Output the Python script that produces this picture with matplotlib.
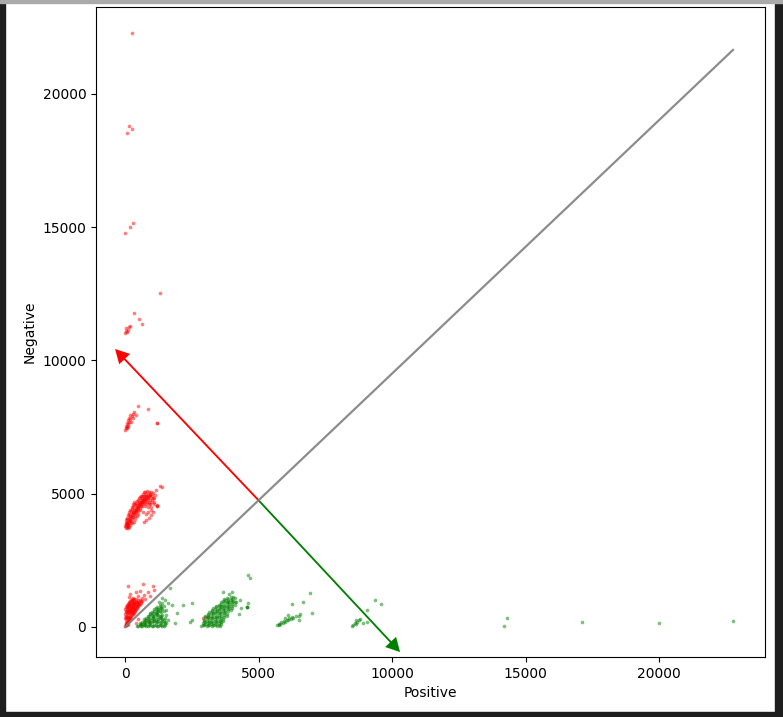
import matplotlib
matplotlib.use("Agg")
import matplotlib.pyplot as plt
from matplotlib.patches import Rectangle
import numpy as np

# red points (negative class) as (positive, negative)
red_low = [(0, 20), (30, 80), (60, 60), (20, 150), (80, 160), (120, 130), (40, 250), (100, 260), (150, 220),
           (10, 320), (70, 340), (130, 350), (190, 300), (50, 430), (110, 440), (170, 420), (230, 380),
           (0, 500), (80, 520), (150, 510), (210, 480), (270, 450), (40, 600), (120, 610), (190, 590),
           (260, 560), (320, 520), (10, 680), (90, 700), (160, 690), (230, 660), (300, 640), (360, 600),
           (60, 780), (140, 790), (210, 760), (280, 740), (350, 720), (410, 680), (110, 870), (190, 860),
           (260, 840), (330, 810), (400, 790), (460, 750), (160, 950), (240, 930), (320, 900), (390, 880),
           (470, 850), (530, 820), (220, 1020), (300, 1000), (380, 980), (450, 950), (520, 920), (600, 900),
           (280, 1080), (420, 1050), (560, 1010), (650, 980), (100, 1550), (670, 1600), (1050, 1550),
           (850, 1300), (400, 1300), (200, 1250), (700, 1200), (950, 1150), (1100, 1400), (550, 1350),
           (400, 150), (900, 170), (2920, 340), (3100, 380), (500, 300),
           (20, 60), (50, 120), (90, 100), (60, 200), (110, 190), (140, 280), (30, 380), (90, 390), (150, 370),
           (200, 350), (20, 550), (100, 560), (170, 550), (240, 520), (290, 500), (60, 650), (140, 650),
           (210, 630), (270, 600), (330, 570), (30, 740), (110, 740), (180, 720), (250, 700), (320, 680),
           (380, 650), (80, 830), (160, 820), (230, 800), (300, 770), (370, 750), (430, 720), (130, 910),
           (210, 900), (280, 880), (350, 850), (430, 830), (500, 790), (190, 990), (270, 970), (350, 940),
           (420, 920), (490, 890), (560, 860), (250, 1050), (340, 1040), (480, 1000), (600, 960),
           (650, 1100), (500, 1150), (750, 1050), (150, 1120)]
red_mid = [(20, 3700), (60, 3750), (100, 3720), (50, 3850), (120, 3820), (150, 3900), (90, 3950), (180, 3980),
           (220, 3950), (130, 4050), (200, 4080), (260, 4050), (300, 4120), (170, 4150), (240, 4200), (320, 4220),
           (360, 4180), (280, 4300), (380, 4300), (420, 4280), (220, 4350), (340, 4400), (440, 4400), (480, 4350),
           (400, 4480), (500, 4500), (540, 4450), (300, 4500), (460, 4580), (560, 4600), (600, 4550), (380, 4600),
           (520, 4680), (620, 4700), (660, 4650), (450, 4720), (580, 4780), (700, 4780), (740, 4720), (520, 4820),
           (650, 4850), (780, 4850), (820, 4800), (600, 4900), (720, 4930), (860, 4900), (900, 4860), (680, 4980),
           (800, 5000), (950, 4950), (1000, 4900), (760, 5080), (880, 5050), (1050, 5020), (1150, 5150),
           (1300, 5300), (1400, 5250), (1200, 4550), (1210, 4560), (1190, 4540), (1050, 4300), (980, 4200),
           (900, 4100), (800, 4000), (700, 3950), (0, 3800), (40, 4000), (80, 4100), (150, 4300), (250, 4500),
           (350, 4700), (1100, 4700), (950, 4600), (850, 4500),
           (40, 3780), (80, 3880), (110, 3900), (140, 3980), (170, 4030), (200, 4150), (250, 4120), (270, 4230),
           (310, 4280), (330, 4330), (360, 4350), (390, 4400), (410, 4430), (430, 4500), (470, 4480), (490, 4550),
           (510, 4600), (530, 4560), (550, 4650), (590, 4680), (610, 4630), (630, 4750), (670, 4730), (690, 4850),
           (710, 4800), (750, 4900), (770, 4800), (790, 4920), (840, 4950), (860, 4820), (920, 4950), (940, 5000),
           (980, 5050), (700, 4650), (620, 4520), (560, 4400), (500, 4250), (450, 4150), (380, 4050), (320, 3950),
           (260, 3900), (200, 3820), (150, 3760), (100, 3800), (60, 3900), (20, 3900), (70, 4050), (110, 4200),
           (160, 4250), (190, 4400), (260, 4420), (290, 4620), (350, 4560), (420, 4650), (480, 4780), (550, 4860),
           (640, 4930), (720, 5050), (830, 5100), (1000, 4800), (1100, 4850), (900, 4700), (800, 4600), (750, 4550),
           (920, 4780), (1000, 4700), (1050, 4850), (880, 4620), (960, 4500), (1080, 4600), (820, 4700),
           (1130, 4950), (980, 4380), (870, 4300), (780, 4250), (680, 4300)]
red_8k = [(0, 7400), (40, 7450), (80, 7500), (30, 7550), (120, 7600), (70, 7650), (160, 7700), (110, 7750),
          (200, 7800), (150, 7850), (250, 7900), (190, 7950), (300, 8000), (60, 7480), (100, 7550), (230, 7700),
          (280, 7850), (350, 8050), (490, 8290), (860, 8175), (1200, 7650), (1210, 7660), (400, 7950)]
red_11k = [(0, 11030), (50, 11100), (100, 11150), (30, 11200), (150, 11250), (80, 11060), (190, 11300),
           (340, 11775), (520, 11550), (640, 11360), (1310, 12525)]
red_top = [(75, 18525), (150, 18790), (260, 18675), (0, 14775), (190, 15000), (300, 15150), (260, 22275)]

# green points (positive class)
green_1 = [(450, 20), (550, 60), (650, 30), (750, 80), (850, 40), (950, 70), (1050, 30), (1150, 60), (1250, 40),
           (1350, 80), (1450, 50), (550, 150), (650, 200), (750, 170), (850, 220), (950, 160), (1050, 210),
           (1150, 180), (1250, 230), (1350, 190), (1450, 160), (700, 300), (800, 340), (900, 290), (1000, 350),
           (1100, 310), (1200, 360), (1300, 330), (1400, 300), (850, 430), (950, 470), (1050, 420), (1150, 480),
           (1250, 440), (1350, 410), (1000, 560), (1100, 600), (1200, 550), (1300, 590), (1150, 700), (1250, 680),
           (1350, 720), (1300, 820), (1450, 600), (1550, 450), (1600, 250), (600, 100), (700, 120), (800, 250),
           (1690, 1460), (1760, 830), (1950, 520), (2170, 830), (2500, 900), (1870, 150), (2500, 260),
           (1500, 1000), (1400, 1100), (1600, 900),
           (500, 40), (600, 20), (700, 60), (800, 30), (900, 60), (1000, 40), (1100, 70), (1200, 30), (1300, 60),
           (1400, 30), (1500, 80), (600, 120), (700, 180), (800, 150), (900, 200), (1000, 170), (1100, 230),
           (1200, 200), (1300, 160), (1400, 220), (1500, 200), (750, 270), (850, 320), (950, 260), (1050, 330),
           (1150, 270), (1250, 300), (1350, 350), (1450, 280), (900, 400), (1000, 450), (1100, 400), (1200, 470),
           (1300, 420), (1400, 450), (950, 520), (1050, 540), (1150, 520), (1250, 600), (1350, 560), (1100, 660),
           (1200, 640), (1300, 700), (1400, 680), (1200, 760), (1350, 800), (1500, 350), (1550, 150),
           (1400, 900), (1280, 950), (1450, 780), (1550, 650)]
green_2 = [(2850, 40), (2950, 60), (3050, 30), (3150, 70), (3250, 40), (3350, 60), (3450, 30), (3550, 50),
           (2900, 150), (3000, 180), (3100, 140), (3200, 190), (3300, 150), (3400, 180), (3500, 140), (3600, 170),
           (2950, 280), (3050, 320), (3150, 270), (3250, 330), (3350, 290), (3450, 320), (3550, 280), (3650, 310),
           (3000, 420), (3100, 460), (3200, 410), (3300, 470), (3400, 430), (3500, 460), (3600, 420), (3700, 450),
           (3800, 410), (3150, 560), (3250, 600), (3350, 550), (3450, 610), (3550, 570), (3650, 600), (3750, 560),
           (3850, 590), (3300, 700), (3400, 740), (3500, 690), (3600, 750), (3700, 710), (3800, 740), (3900, 700),
           (4000, 730), (3500, 840), (3600, 880), (3700, 830), (3800, 890), (3900, 850), (4000, 880), (4100, 840),
           (3650, 980), (3750, 1020), (3850, 970), (3950, 1010), (4050, 980), (4150, 950), (3800, 1100),
           (3950, 1120), (4100, 1080), (3670, 1310), (4000, 1310), (4680, 1840), (4610, 1950), (4570, 750),
           (4580, 760), (4560, 740), (4600, 900), (4300, 1000), (4350, 700), (4250, 500), (2430, 190), (3900, 1250),
           (2900, 90), (3000, 110), (3100, 80), (3200, 110), (3300, 90), (3400, 100), (3500, 80), (3600, 100),
           (2950, 210), (3050, 230), (3150, 200), (3250, 240), (3350, 210), (3450, 230), (3550, 220), (3650, 230),
           (3000, 360), (3100, 380), (3200, 350), (3300, 390), (3400, 360), (3500, 380), (3600, 350), (3700, 370),
           (3100, 500), (3200, 520), (3300, 510), (3400, 520), (3500, 510), (3600, 520), (3700, 510), (3800, 500),
           (3250, 650), (3350, 670), (3450, 650), (3550, 660), (3650, 660), (3750, 640), (3850, 660), (3950, 640),
           (3400, 790), (3500, 770), (3600, 800), (3700, 790), (3800, 800), (3900, 790), (4000, 800), (3600, 930),
           (3700, 920), (3800, 940), (3900, 930), (4000, 940), (4100, 920), (3700, 1060), (3850, 1050),
           (4000, 1060), (4050, 1140)]
green_3 = [(5700, 60), (5750, 120), (5800, 100), (5850, 180), (5900, 150), (5950, 230), (6000, 200), (6050, 280),
           (6100, 250), (6150, 330), (6200, 300), (6250, 380), (6300, 350), (6400, 420), (6500, 400), (6550, 480),
           (5780, 60), (6000, 350), (6100, 450), (6250, 860), (6670, 940), (6930, 1270), (7000, 525), (6500, 250)]
green_4 = [(8500, 20), (8550, 80), (8600, 150), (8650, 120), (8700, 200), (8750, 250), (8800, 300), (8650, 280),
           (9060, 640), (9360, 1010), (9590, 860), (9060, 190), (8900, 150)]
green_far = [(14190, 40), (14300, 340), (17110, 190), (20000, 150), (22770, 230)]

# diagonal line and the two arrows
line_x = [0, 22770]
line_y = [0, 21640]
arrow_start = (5000, 4750)
red_arrow_end = (-375, 10425)
green_arrow_end = (10300, -940)

red = np.array(red_low + red_mid + red_8k + red_11k + red_top)
green = np.array(green_1 + green_2 + green_3 + green_4 + green_far)

fig = plt.figure(figsize=(7.83, 7.17), dpi=100)
ax = fig.add_axes([0.1226, 0.0837, 0.8544, 0.9065])

ax.scatter(red[:, 0], red[:, 1], s=7, color="red", alpha=0.5, linewidths=0)
ax.scatter(green[:, 0], green[:, 1], s=7, color="green", alpha=0.5, linewidths=0)
ax.plot(line_x, line_y, color="gray", linewidth=1.6, alpha=0.9)

for end, col in [(red_arrow_end, "red"), (green_arrow_end, "green")]:
    ax.arrow(arrow_start[0], arrow_start[1], end[0] - arrow_start[0], end[1] - arrow_start[1],
             width=70, head_width=560, head_length=520, length_includes_head=True,
             color=col, linewidth=0)

ax.set_xlim(-1090, 23970)
ax.set_ylim(-1125, 23250)
ax.set_xlabel("Positive")
ax.set_ylabel("Negative")

# dark screenshot frame around the figure
fig.patches.append(Rectangle((0, 0), 5 / 783, 1, transform=fig.transFigure, color="#1e1e1e", zorder=10))
fig.patches.append(Rectangle((1 - 8 / 783, 0), 8 / 783, 1, transform=fig.transFigure, color="#1e1e1e", zorder=10))
fig.patches.append(Rectangle((0, 0), 1, 5 / 717, transform=fig.transFigure, color="#1e1e1e", zorder=10))
fig.patches.append(Rectangle((0, 1 - 3 / 717), 1, 3 / 717, transform=fig.transFigure, color="#aaaaaa", zorder=10))

fig.savefig("out.png", dpi=100)
